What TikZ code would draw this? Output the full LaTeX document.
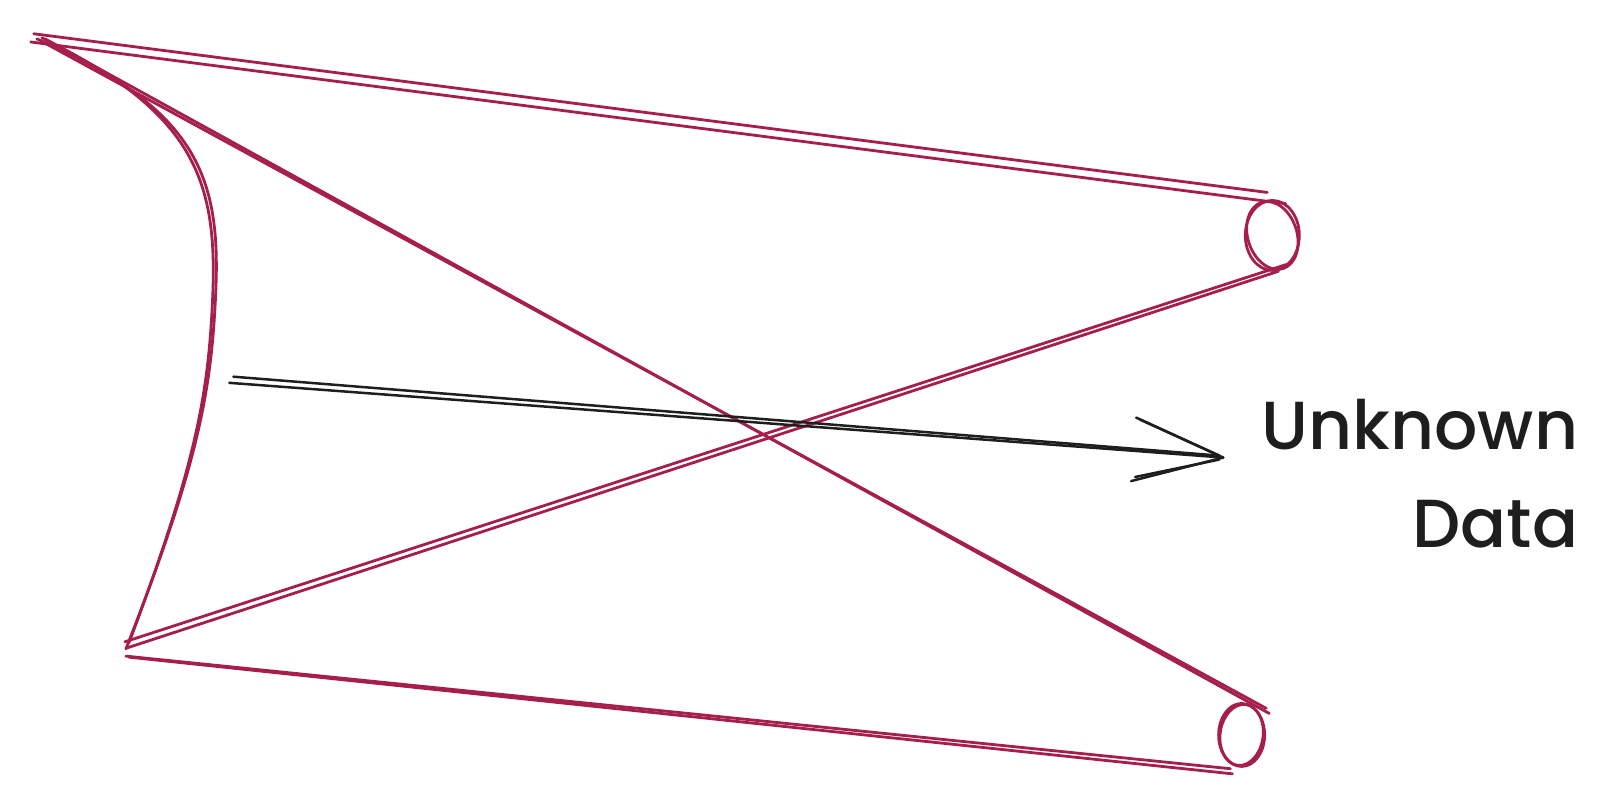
\documentclass[tikz,border=0pt]{standalone}
\usepackage{fontspec}
\setmainfont{Poppins}[BoldFont={Poppins Medium}]
\usetikzlibrary{calc,shapes.geometric}
\definecolor{wine}{HTML}{A61E4D}
\definecolor{ink}{HTML}{1E1E1E}
\tikzset{
  redline/.style={draw=wine, line width=2.8pt, line cap=round, line join=round},
  inkline/.style={draw=ink, line width=2.5pt, line cap=round},
  ring/.style={ellipse, draw=wine, line width=2.8pt, inner sep=0pt},
}

\begin{document}
\begin{tikzpicture}[x=1.0236pt, y=-1.0236pt]
	%%%%% START %%%%%
	\useasboundingbox (0,0) rectangle (1568,785.5);
	
	\coordinate (A) at (36,38);
	\coordinate (B) at (123,634);
	\node[ring, minimum width=54pt, minimum height=70pt] (C) at (1243,230) {};
	\node[ring, minimum width=46pt, minimum height=63pt] (D) at (1213,718) {};
	\draw[redline, rotate around={18:(C.center)}] (C.center) ellipse [x radius=24, y radius=34];
	\draw[redline, rotate around={-8:(D.center)}] (D.center) ellipse [x radius=21, y radius=30];
	
	% top edge
	\draw[redline] ($(A)+(-3,-5)$) -- ($(C.center)+(-5,-42)$);
	\draw[redline] ($(A)+(-6,3)$) -- ($(C.center)+(13,-31)$);
	
	% left curve
	\draw[redline] (A) .. controls (190,105) and (215,170) .. (211,280) .. controls (207,380) and (195,450) .. (B);
	\draw[redline] ($(A)+(5,-1)$) .. controls (186,108) and (212,172) .. (208,285) .. controls (204,385) and (192,452) .. ($(B)+(3,-6)$);
	
	% diagonal to the bottom circle
	\draw[redline] ($(A)+(4,2)$) -- ($(D.center)+(24,-26)$);
	\draw[redline] ($(A)+(8,0)$) -- ($(D.center)+(27,-21)$);
	
	% diagonal to the top circle
	\draw[redline] ($(B)+(-1,-7)$) -- ($(C.center)+(15,28)$);
	\draw[redline] ($(B)+(1,-1)$) -- ($(C.center)+(6,35)$);
	
	% bottom edge
	\draw[redline] ($(B)+(0,7)$) -- ($(D.center)+(-11,33)$);
	\draw[redline] ($(B)+(3,8)$) -- ($(D.center)+(-9,38)$);
	
	% arrow
	\coordinate (T) at (226,371);
	\coordinate (H) at (1195,447);
	\draw[inkline] ($(T)+(2,-3)$) -- ($(H)+(-5,-2)$);
	\draw[inkline] ($(T)+(-2,3)$) -- (H);
	\draw[inkline] ($(H)+(-85,-39)$) -- (H);
	\draw[inkline] ($(H)+(-81,-37)$) -- ($(H)+(-4,-2)$);
	\draw[inkline] ($(H)+(-90,23)$) -- (H);
	\draw[inkline] ($(H)+(-86,19)$) -- ($(H)+(-4,2)$);
	
	\node[text=ink, font=\fontsize{68}{98}\selectfont\bfseries, align=right, anchor=east, inner sep=0pt] (L) at (1542,463) {Unknown\\Data};
	%%%%% END %%%%%
\end{tikzpicture}
\end{document}
